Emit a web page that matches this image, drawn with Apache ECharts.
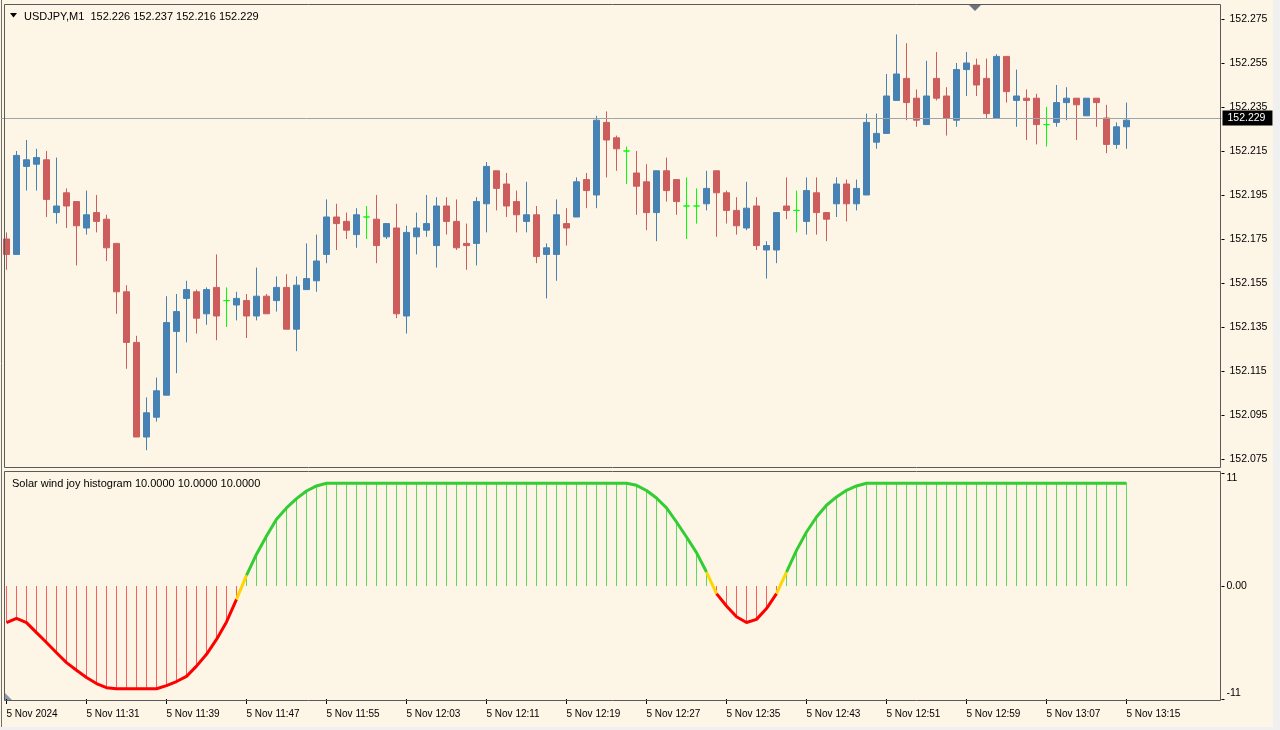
<!DOCTYPE html>
<html>
<head>
<meta charset="utf-8">
<title>USDJPY M1 - Solar wind joy histogram</title>
<script src="https://cdn.jsdelivr.net/npm/echarts@6/dist/echarts.min.js"></script>
<style>
  html, body { margin: 0; padding: 0; background: #F0F0F0; }
  #chart { width: 1280px; height: 730px; }
</style>
</head>
<body>
<div id="chart"></div>
<script>
// --- data ---
var symbolTitle = 'USDJPY,M1  152.226 152.237 152.216 152.229';
var indicatorTitle = 'Solar wind joy histogram 10.0000 10.0000 10.0000';

var timeLabels = ['5 Nov 2024', '5 Nov 11:31', '5 Nov 11:39', '5 Nov 11:47', '5 Nov 11:55',
  '5 Nov 12:03', '5 Nov 12:11', '5 Nov 12:19', '5 Nov 12:27', '5 Nov 12:35', '5 Nov 12:43',
  '5 Nov 12:51', '5 Nov 12:59', '5 Nov 13:07', '5 Nov 13:15'];
var barsPerLabel = 8;
var emptyBarsRight = 9;   // chart shift space on the right

var priceTicks = [152.075, 152.095, 152.115, 152.135, 152.155, 152.175, 152.195, 152.215, 152.235, 152.255, 152.275];
var histTicks = [-11, 0, 11];

var opens = [152.175, 152.168, 152.208, 152.209, 152.211, 152.187, 152.196, 152.192, 152.180, 152.187,
  152.184, 152.173, 152.151, 152.128, 152.085, 152.094, 152.104, 152.133, 152.148, 152.151,
  152.141, 152.153, 152.147, 152.145, 152.147, 152.140, 152.149, 152.147, 152.153, 152.134,
  152.152, 152.156, 152.168, 152.185, 152.183, 152.177, 152.185, 152.184, 152.176, 152.180,
  152.140, 152.176, 152.179, 152.172, 152.190, 152.183, 152.173, 152.173, 152.191, 152.206,
  152.200, 152.192, 152.183, 152.186, 152.168, 152.168, 152.182, 152.185, 152.202, 152.195,
  152.228, 152.221, 152.215, 152.205, 152.201, 152.187, 152.206, 152.202, 152.190, 152.190,
  152.191, 152.206, 152.196, 152.188, 152.180, 152.190, 152.170, 152.170, 152.190, 152.188,
  152.183, 152.196, 152.187, 152.191, 152.200, 152.191, 152.195, 152.219, 152.223, 152.238,
  152.248, 152.239, 152.227, 152.248, 152.240, 152.229, 152.252, 152.254, 152.248, 152.230,
  152.258, 152.238, 152.239, 152.239, 152.227, 152.228, 152.237, 152.239, 152.231, 152.239,
  152.230, 152.218, 152.226];
var highs = [152.178, 152.215, 152.220, 152.216, 152.215, 152.212, 152.198, 152.192, 152.197, 152.195,
  152.186, 152.173, 152.154, 152.131, 152.103, 152.112, 152.149, 152.150, 152.156, 152.152,
  152.153, 152.168, 152.153, 152.151, 152.150, 152.162, 152.150, 152.158, 152.159, 152.158,
  152.173, 152.177, 152.193, 152.191, 152.187, 152.189, 152.190, 152.195, 152.182, 152.191,
  152.181, 152.187, 152.195, 152.194, 152.194, 152.193, 152.182, 152.194, 152.210, 152.206,
  152.205, 152.197, 152.201, 152.190, 152.173, 152.193, 152.189, 152.203, 152.205, 152.231,
  152.233, 152.222, 152.217, 152.215, 152.209, 152.206, 152.212, 152.202, 152.203, 152.198,
  152.206, 152.206, 152.197, 152.194, 152.201, 152.194, 152.174, 152.187, 152.203, 152.197,
  152.203, 152.203, 152.187, 152.203, 152.202, 152.202, 152.232, 152.232, 152.250, 152.268,
  152.264, 152.243, 152.256, 152.260, 152.244, 152.255, 152.260, 152.257, 152.257, 152.259,
  152.258, 152.252, 152.243, 152.241, 152.235, 152.245, 152.244, 152.239, 152.239, 152.239,
  152.236, 152.228, 152.237];
var lows = [152.161, 152.168, 152.197, 152.197, 152.185, 152.182, 152.180, 152.163, 152.177, 152.178,
  152.165, 152.141, 152.116, 152.085, 152.079, 152.092, 152.104, 152.114, 152.128, 152.132,
  152.136, 152.129, 152.135, 152.138, 152.130, 152.138, 152.141, 152.142, 152.134, 152.124,
  152.152, 152.151, 152.164, 152.170, 152.175, 152.171, 152.175, 152.164, 152.175, 152.139,
  152.132, 152.168, 152.176, 152.162, 152.177, 152.170, 152.161, 152.163, 152.178, 152.188,
  152.185, 152.178, 152.178, 152.164, 152.148, 152.156, 152.172, 152.185, 152.189, 152.189,
  152.203, 152.206, 152.200, 152.186, 152.179, 152.174, 152.192, 152.186, 152.175, 152.182,
  152.188, 152.176, 152.182, 152.177, 152.179, 152.170, 152.157, 152.164, 152.184, 152.178,
  152.177, 152.177, 152.174, 152.185, 152.183, 152.188, 152.195, 152.216, 152.223, 152.238,
  152.229, 152.226, 152.227, 152.238, 152.222, 152.226, 152.240, 152.240, 152.230, 152.230,
  152.237, 152.226, 152.220, 152.218, 152.217, 152.226, 152.229, 152.220, 152.231, 152.226,
  152.214, 152.216, 152.216];
var closes = [152.168, 152.213, 152.211, 152.212, 152.193, 152.190, 152.190, 152.181, 152.186, 152.183,
  152.171, 152.151, 152.128, 152.085, 152.096, 152.106, 152.137, 152.142, 152.152, 152.139,
  152.152, 152.140, 152.147, 152.148, 152.140, 152.149, 152.141, 152.153, 152.134, 152.154,
  152.157, 152.165, 152.185, 152.182, 152.179, 152.186, 152.185, 152.172, 152.182, 152.141,
  152.178, 152.180, 152.182, 152.190, 152.183, 152.171, 152.172, 152.192, 152.208, 152.198,
  152.190, 152.186, 152.186, 152.167, 152.171, 152.186, 152.180, 152.201, 152.197, 152.229,
  152.220, 152.216, 152.215, 152.199, 152.187, 152.206, 152.197, 152.192, 152.190, 152.190,
  152.198, 152.196, 152.188, 152.181, 152.189, 152.172, 152.172, 152.187, 152.188, 152.188,
  152.197, 152.187, 152.184, 152.200, 152.191, 152.198, 152.228, 152.223, 152.240, 152.250,
  152.237, 152.229, 152.240, 152.239, 152.230, 152.252, 152.255, 152.245, 152.232, 152.258,
  152.242, 152.240, 152.238, 152.227, 152.227, 152.237, 152.239, 152.236, 152.239, 152.237,
  152.218, 152.226, 152.229];

var histValues = [-3.57, -3.15, -3.57, -4.54, -5.5, -6.5, -7.46, -8.2, -8.9, -9.5,
  -9.9, -10, -10, -10, -10, -10, -9.7, -9.3, -8.8, -7.8,
  -6.65, -5.2, -3.5, -1.3, 1.04, 3.1, 4.87, 6.5, 7.6, 8.5,
  9.25, 9.74, 10, 10, 10, 10, 10, 10, 10, 10,
  10, 10, 10, 10, 10, 10, 10, 10, 10, 10,
  10, 10, 10, 10, 10, 10, 10, 10, 10, 10,
  10, 10, 10, 9.8, 9.3, 8.57, 7.6, 6.23, 4.77, 3.25,
  1.36, -0.74, -1.95, -3.0, -3.55, -3.25, -2.2, -0.74, 1.36, 3.47,
  5.26, 6.72, 7.86, 8.67, 9.32, 9.74, 10, 10, 10, 10,
  10, 10, 10, 10, 10, 10, 10, 10, 10, 10,
  10, 10, 10, 10, 10, 10, 10, 10, 10, 10,
  10, 10, 10];

// --- build what echarts needs ---
var barCount = opens.length + emptyBarsRight;
var categories = [];
for (var i = 0; i < barCount; i++) {
  var m = 11 * 60 + 23 + i;
  categories.push(Math.floor(m / 60) + ':' + ('0' + (m % 60)).slice(-2));
}
var candles = opens.map(function (o, i) {
  return [o, closes[i], lows[i], highs[i]];
});
var lastPrice = closes[closes.length - 1];

var redLine = histValues.map(function (v) { return v < 0 ? v : null; });
var greenLine = histValues.map(function (v) { return v >= 0 ? v : null; });
var yellowLine = histValues.map(function (v, i) {
  var prev = histValues[i - 1], next = histValues[i + 1];
  var cross = (prev !== undefined && (prev < 0) !== (v < 0)) ||
              (next !== undefined && (next < 0) !== (v < 0));
  return cross ? v : null;
});

var font = 'Liberation Sans, Arial, sans-serif';
var showTick = function (index) {
  return index % barsPerLabel === 0 && index / barsPerLabel < timeLabels.length;
};

var chart = echarts.init(document.getElementById('chart'), null, { renderer: 'canvas' });

var option = {
  animation: false,
  backgroundColor: '#FDF5E6',
  title: [
    { text: symbolTitle, left: 24, top: 10, padding: 0,
      textStyle: { fontFamily: font, fontSize: 11, fontWeight: 'normal', color: '#000', lineHeight: 14 } },
    { text: indicatorTitle, left: 12, top: 477, padding: 0,
      textStyle: { fontFamily: font, fontSize: 11, fontWeight: 'normal', color: '#000', lineHeight: 14 } }
  ],
  grid: [
    { left: 1.5, top: 5, width: 1220, height: 462 },
    { left: 1.5, top: 473, width: 1220, height: 226 }
  ],
  xAxis: [
    { type: 'category', gridIndex: 0, data: categories, boundaryGap: true, show: false },
    { type: 'category', gridIndex: 1, data: categories, boundaryGap: true, position: 'bottom',
      axisLine: { show: false, onZero: false },
      axisTick: { show: true, alignWithLabel: true, interval: showTick, length: 5,
        lineStyle: { color: '#000' } },
      axisLabel: { interval: showTick, align: 'left', margin: 10, color: '#000',
        fontFamily: font, fontSize: 10,
        formatter: function (v, index) { return timeLabels[index / barsPerLabel]; } },
      splitLine: { show: false } }
  ],
  yAxis: [
    { type: 'value', gridIndex: 0, position: 'right', min: 152.07136, max: 152.28136,
      axisLine: { show: false },
      axisTick: { show: true, length: 3, customValues: priceTicks, lineStyle: { color: '#000' } },
      axisLabel: { customValues: priceTicks, margin: 8, color: '#000', fontFamily: font, fontSize: 10.5,
        formatter: function (v) { return v.toFixed(3); } },
      splitLine: { show: false } },
    { type: 'value', gridIndex: 1, position: 'right', min: -11, max: 11,
      axisLine: { show: false },
      axisTick: { show: true, length: 3, customValues: histTicks, lineStyle: { color: '#000' } },
      axisLabel: { customValues: histTicks, margin: 5, color: '#000', fontFamily: font, fontSize: 10.5,
        verticalAlignMaxLabel: 'top', verticalAlignMinLabel: 'bottom',
        formatter: function (v) { return v === 0 ? '0.00' : String(v); } },
      splitLine: { show: false } }
  ],
  series: [
    {
      type: 'candlestick', xAxisIndex: 0, yAxisIndex: 0, data: candles,
      barWidth: 6,
      itemStyle: {
        color: '#4682B4', color0: '#CD5C5C',
        borderColor: '#4682B4', borderColor0: '#CD5C5C',
        borderColorDoji: '#00FF00', borderWidth: 1
      },
      markLine: {
        silent: true, symbol: ['none', 'none'],
        lineStyle: { color: '#A0A4A8', type: 'solid', width: 1 },
        label: { show: true, position: 'end', distance: 1,
          formatter: function () { return lastPrice.toFixed(3); },
          backgroundColor: '#000', color: '#fff', padding: [2, 7, 2, 5],
          fontFamily: font, fontSize: 10.5 },
        data: [{ yAxis: lastPrice }]
      }
    },
    {
      type: 'bar', xAxisIndex: 1, yAxisIndex: 1, data: histValues,
      barWidth: 1, silent: true,
      itemStyle: { color: function (p) { return p.value < 0 ? '#FF5C5C' : '#5FD85F'; } }
    },
    { type: 'line', xAxisIndex: 1, yAxisIndex: 1, data: redLine, showSymbol: false, silent: true,
      lineStyle: { color: '#FF0000', width: 3 }, z: 3 },
    { type: 'line', xAxisIndex: 1, yAxisIndex: 1, data: greenLine, showSymbol: false, silent: true,
      lineStyle: { color: '#32CD32', width: 3 }, z: 3 },
    { type: 'line', xAxisIndex: 1, yAxisIndex: 1, data: yellowLine, showSymbol: false, silent: true,
      lineStyle: { color: '#FFD700', width: 3 }, z: 4 }
  ],
  graphic: [
    // window edges
    { type: 'rect', shape: { x: 1273, y: 0, width: 7, height: 730 }, style: { fill: '#F0F0F0' }, silent: true },
    { type: 'rect', shape: { x: 0, y: 727, width: 1280, height: 3 }, style: { fill: '#F0F0F0' }, silent: true },
    { type: 'line', shape: { x1: 1.5, y1: 0, x2: 1.5, y2: 727 }, style: { stroke: '#707070', lineWidth: 1 }, silent: true },
    // pane frames
    { type: 'rect', shape: { x: 4.5, y: 4.5, width: 1216, height: 463 },
      style: { fill: null, stroke: '#5A5A5A', lineWidth: 1 }, silent: true, z: 100 },
    { type: 'rect', shape: { x: 4.5, y: 471.5, width: 1216, height: 229 },
      style: { fill: null, stroke: '#5A5A5A', lineWidth: 1 }, silent: true, z: 100 },
    // small markers
    { type: 'polygon', shape: { points: [[10, 13], [17, 13], [13.5, 17.5]] }, style: { fill: '#000' }, silent: true },
    { type: 'polygon', shape: { points: [[969, 5], [981, 5], [975, 11]] }, style: { fill: '#6A737C' }, silent: true },
    { type: 'polygon', shape: { points: [[5, 693], [5, 700], [12, 700]] }, style: { fill: '#8C9AA8' }, silent: true }
  ]
};

chart.setOption(option);
</script>
</body>
</html>
